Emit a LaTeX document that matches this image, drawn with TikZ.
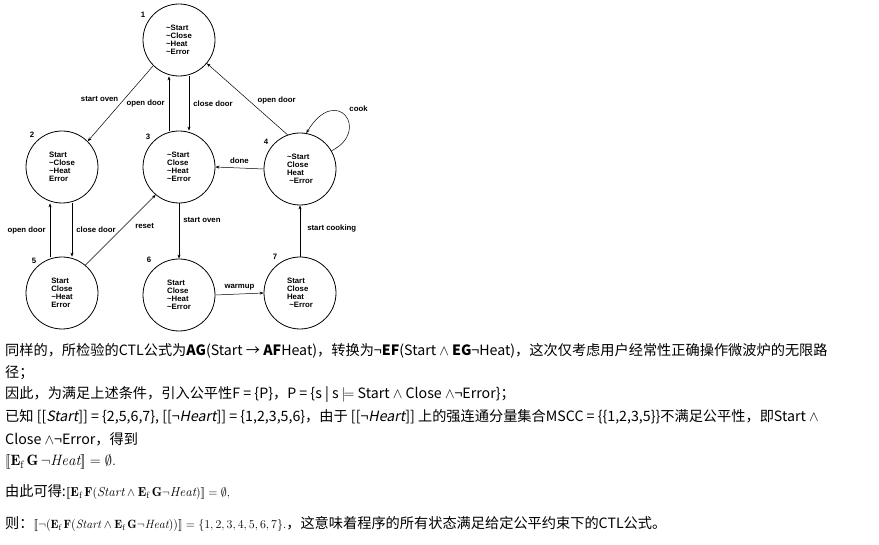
\documentclass[tikz,border=0pt]{standalone}
\usepackage{fontspec}
\usepackage{amssymb}
\setsansfont{Liberation Sans}
\newfontfamily\cjk[ItalicFont=Noto Sans CJK SC,ItalicFeatures={FakeSlant=0.2}]{Noto Sans CJK SC}
\usetikzlibrary{arrows.meta}
\begin{document}
\begin{tikzpicture}[x=1pt,y=-1pt,
  st/.style={draw,thick,circle,minimum size=72pt,inner sep=0pt,align=left,font=\sffamily\bfseries\fontsize{7.8}{8}\selectfont},
  lb/.style={font=\sffamily\bfseries\fontsize{7.8}{8}\selectfont,inner sep=1pt},
  ar/.style={draw,line width=0.5pt,-{Stealth[length=4pt,width=3pt]}},
  tx/.style={anchor=west,inner sep=0pt,font=\cjk\fontsize{14.2}{16}\selectfont}]
\useasboundingbox (0,0) rectangle (879,545);
\node[st] (n1) at (179,40) {\textasciitilde Start\\\textasciitilde Close\\\textasciitilde Heat\\\textasciitilde Error};
\node[st] (n2) at (62,167) {Start\\\textasciitilde Close\\\textasciitilde Heat\\Error};
\node[st] (n3) at (179,167) {\textasciitilde Start\\Close\\\textasciitilde Heat\\\textasciitilde Error};
\node[st] (n4) at (300,169) {\textasciitilde Start\\Close\\Heat\\\ \textasciitilde Error};
\node[st] (n5) at (62,293) {Start\\Close\\\textasciitilde Heat\\Error};
\node[st] (n6) at (179,295) {Start\\Close\\\textasciitilde Heat\\\textasciitilde Error};
\node[st] (n7) at (300,293) {Start\\Close\\Heat\\\ \textasciitilde Error};
\node[lb] (k1) at (143,15) {1};
\node[lb] (k2) at (32,135) {2};
\node[lb] (k3) at (148,137) {3};
\node[lb] (k4) at (266,142) {4};
\node[lb] (k5) at (34,261) {5};
\node[lb] (k6) at (149,260) {6};
\node[lb] (k7) at (275,257) {7};
\draw[ar] (n1.225) -- (n2.45) node[lb,pos=0.5,above left=1pt] {start oven};
\draw[ar] ([xshift=-10pt]n3.north) -- ([xshift=-10pt]n1.south) node[lb,pos=0.5,left=3pt] {open door};
\draw[ar] ([xshift=10pt]n1.south) -- ([xshift=10pt]n3.north) node[lb,pos=0.5,right=3pt] {close door};
\draw[ar] (n4.110) -- (n1.-40) node[lb,pos=0.4,above right=1pt] {open door};
\draw[ar] (n4.30) .. controls +(40,-20) and +(30,-50) .. (n4.80) node[lb,pos=0.5,above right=3pt] {cook};
\draw[ar] (n4.west) -- (n3.east) node[lb,pos=0.5,above=3pt] {done};
\draw[ar] ([xshift=-12pt]n5.north) -- ([xshift=-12pt]n2.south) node[lb,pos=0.5,left=3pt] {open door};
\draw[ar] ([xshift=10pt]n2.south) -- ([xshift=10pt]n5.north) node[lb,pos=0.5,right=3pt] {close door};
\draw[ar] (n5.50) -- (n3.230) node[lb,pos=0.55,right=10pt] {reset};
\draw[ar] (n3.south) -- (n6.north) node[lb,pos=0.3,right=3pt] {start oven};
\draw[ar] (n6.east) -- (n7.west) node[lb,pos=0.5,above=3pt] {warmup};
\draw[ar] (n7.north) -- (n4.south) node[lb,pos=0.55,right=6pt] {start cooking};
\node[tx] (t1) at (5,351) {同样的，所检验的CTL公式为\textbf{AG}(Start → \textbf{AF}Heat)，转换为¬\textbf{EF}(Start $\wedge$ \textbf{EG}¬Heat)，这次仅考虑用户经常性正确操作微波炉的无限路};
\node[tx] (t2) at (5,373) {径；};
\node[tx] (t3) at (5,395) {因此，为满足上述条件，引入公平性F = \{P\}，P = \{s | s $\models$ Start $\wedge$ Close $\wedge$¬Error\}；};
\node[tx] (t4) at (5,417) {已知 [[\textit{Start}]] = \{2,5,6,7\}, [[¬\textit{Heart}]] = \{1,2,3,5,6\}，由于 [[¬\textit{Heart}]] 上的强连通分量集合MSCC = \{\{1,2,3,5\}\}不满足公平性，即Start $\wedge$};
\node[tx] (t5) at (5,439) {Close $\wedge$¬Error，得到};
\node[tx,font=\fontsize{15}{17}\selectfont] (t6) at (5,462) {$[\![\mathbf{E}_{\mathrm f}\,\mathbf{G}\,\neg\mathit{Heat}]\!] = \emptyset.$};
\node[tx] (t7) at (5,492) {由此可得:{\fontsize{13}{15}\selectfont$[\![\mathbf{E}_{\mathrm f}\,\mathbf{F}(\mathit{Start}\wedge\mathbf{E}_{\mathrm f}\,\mathbf{G}\neg\mathit{Heat})]\!]=\emptyset,$}};
\node[tx] (t8) at (5,524) {则：{\fontsize{12}{14}\selectfont$[\![\neg(\mathbf{E}_{\mathrm f}\,\mathbf{F}(\mathit{Start}\wedge\mathbf{E}_{\mathrm f}\,\mathbf{G}\neg\mathit{Heat}))]\!]=\{1,2,3,4,5,6,7\}.$}，这意味着程序的所有状态满足给定公平约束下的CTL公式。};
\end{tikzpicture}
\end{document}
